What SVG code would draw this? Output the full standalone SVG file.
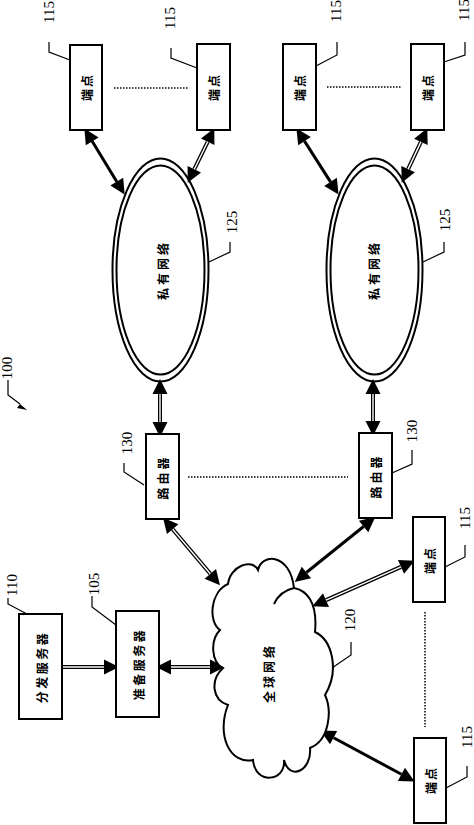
<svg xmlns="http://www.w3.org/2000/svg" width="474" height="825" viewBox="0 0 474 825">
<style>
.box{fill:#fff;stroke:#000;stroke-width:2}
.cn{font-family:"Noto Sans CJK SC","Noto Sans CJK JP",sans-serif;font-weight:700;font-size:12px;text-anchor:middle;dominant-baseline:central;fill:#000}
.num{font-family:"Liberation Serif",serif;font-size:15px;text-anchor:middle;dominant-baseline:central;fill:#000}
.lead{fill:none;stroke:#000;stroke-width:1.2}
.sh{stroke:#000;stroke-width:3}
.dsh{stroke:#000;stroke-width:4}
.gap{stroke:#fff;stroke-width:1.4}
.dot{stroke:#000;stroke-width:1.5;stroke-dasharray:1.5 1.5}
.ell{fill:none;stroke:#000;stroke-width:2}
</style>
<defs>
<marker id="ah" markerUnits="userSpaceOnUse" markerWidth="20" markerHeight="20" refX="0" refY="0" viewBox="-1 -8 16 16" orient="auto-start-reverse" overflow="visible">
<path d="M0,-6 L12,0 L0,6 Z" fill="#000"/>
</marker>
</defs>

<g id="connectors">
<line class="dsh" x1="62" y1="667" x2="104" y2="667" marker-end="url(#ah)"/>
<line class="gap" x1="62" y1="667" x2="104" y2="667"/>
<line class="dsh" x1="171" y1="667" x2="210" y2="667" marker-start="url(#ah)" marker-end="url(#ah)"/>
<line class="gap" x1="171" y1="667" x2="210" y2="667"/>
<line class="sh" x1="92.2" y1="141.3" x2="116.8" y2="181.7" marker-start="url(#ah)" marker-end="url(#ah)"/>
<line class="dsh" x1="207.7" y1="141.8" x2="194.3" y2="169.2" marker-start="url(#ah)" marker-end="url(#ah)"/>
<line class="gap" x1="207.7" y1="141.8" x2="194.3" y2="169.2"/>
<line class="sh" x1="304.5" y1="141.1" x2="330.5" y2="181.9" marker-start="url(#ah)" marker-end="url(#ah)"/>
<line class="dsh" x1="420.9" y1="141.9" x2="408.1" y2="169.1" marker-start="url(#ah)" marker-end="url(#ah)"/>
<line class="gap" x1="420.9" y1="141.9" x2="408.1" y2="169.1"/>
<line class="dsh" x1="160" y1="394" x2="160" y2="422" marker-start="url(#ah)" marker-end="url(#ah)"/>
<line class="gap" x1="160" y1="394" x2="160" y2="422"/>
<line class="dsh" x1="373" y1="394" x2="373" y2="421" marker-start="url(#ah)" marker-end="url(#ah)"/>
<line class="gap" x1="373" y1="394" x2="373" y2="421"/>
<line class="dsh" x1="172.7" y1="529.2" x2="210.3" y2="573.8" marker-start="url(#ah)" marker-end="url(#ah)"/>
<line class="gap" x1="172.7" y1="529.2" x2="210.3" y2="573.8"/>
<line class="sh" x1="363.6" y1="526.5" x2="306.4" y2="572.5" marker-start="url(#ah)" marker-end="url(#ah)"/>
<line class="dsh" x1="401" y1="566.9" x2="326" y2="600.1" marker-start="url(#ah)" marker-end="url(#ah)"/>
<line class="gap" x1="401" y1="566.9" x2="326" y2="600.1"/>
<line class="sh" x1="401.4" y1="774.3" x2="333.6" y2="737.7" marker-start="url(#ah)" marker-end="url(#ah)"/>
<line class="dot" x1="114" y1="88" x2="188" y2="88"/>
<line class="dot" x1="327" y1="87" x2="401" y2="87"/>
<line class="dot" x1="188" y1="477" x2="348" y2="477"/>
<line class="dot" x1="425" y1="612" x2="425" y2="727"/>
<polyline class="lead" points="8,380 8,395 20,404"/>
<path d="M20,404 L27,410 L17,408 Z" fill="#000"/>
</g>

<g id="label-100"><text class="num" transform="translate(7,368) rotate(-90)">100</text></g>

<g id="n110">
<rect class="box" x="19" y="614" width="43" height="105"/>
<text class="cn" transform="translate(41,667) rotate(-90)" letter-spacing="2.5">分发服务器</text>
<polyline class="lead" points="8,598 8,604 27,614"/>
<text class="num" transform="translate(12,585) rotate(-90)">110</text>
</g>

<g id="n105">
<rect class="box" x="116" y="611" width="43" height="106"/>
<text class="cn" transform="translate(138,664) rotate(-90)" letter-spacing="2.5">准备服务器</text>
<polyline class="lead" points="92,596 92,607 116,625"/>
<text class="num" transform="translate(94,584) rotate(-90)">105</text>
</g>

<g id="n115a">
<rect class="box" x="70" y="45" width="32" height="85"/>
<text class="cn" transform="translate(86,87) rotate(-90)" letter-spacing="2">端点</text>
<polyline class="lead" points="49,42 49,52 70,60"/>
<text class="num" transform="translate(49,12) rotate(-90)">115</text>
</g>
<g id="n115b">
<rect class="box" x="197" y="44" width="33" height="86"/>
<text class="cn" transform="translate(213,87) rotate(-90)" letter-spacing="2">端点</text>
<polyline class="lead" points="171,48 171,58 197,68"/>
<text class="num" transform="translate(170,18) rotate(-90)">115</text>
</g>
<g id="n115c">
<rect class="box" x="283" y="44" width="33" height="86"/>
<text class="cn" transform="translate(299,87) rotate(-90)" letter-spacing="2">端点</text>
<polyline class="lead" points="337,42 337,55 316,66"/>
<text class="num" transform="translate(336,11) rotate(-90)">115</text>
</g>
<g id="n115d">
<rect class="box" x="411" y="44" width="33" height="86"/>
<text class="cn" transform="translate(427,87) rotate(-90)" letter-spacing="2">端点</text>
<polyline class="lead" points="465,42 465,55 444,62"/>
<text class="num" transform="translate(464,10) rotate(-90)">115</text>
</g>

<g id="n125a">
<ellipse class="ell" cx="160.5" cy="270" rx="48" ry="111.5"/>
<ellipse class="ell" cx="160.5" cy="270" rx="44" ry="104.5"/>
<text class="cn" transform="translate(162,270) rotate(-90)" letter-spacing="3">私有网络</text>
<polyline class="lead" points="230,242 230,252 209,262"/>
<text class="num" transform="translate(232,222) rotate(-90)">125</text>
</g>
<g id="n125b">
<ellipse class="ell" cx="374.5" cy="270" rx="48" ry="111.5"/>
<ellipse class="ell" cx="374.5" cy="270" rx="44" ry="104.5"/>
<text class="cn" transform="translate(373,270) rotate(-90)" letter-spacing="3">私有网络</text>
<polyline class="lead" points="444,242 444,252 423,262"/>
<text class="num" transform="translate(445,220) rotate(-90)">125</text>
</g>

<g id="n130a">
<rect class="box" x="146" y="434" width="33" height="85"/>
<text class="cn" transform="translate(162,477) rotate(-90)" letter-spacing="3">路由器</text>
<polyline class="lead" points="124,463 124,472 144,485"/>
<text class="num" transform="translate(127,443) rotate(-90)">130</text>
</g>
<g id="n130b">
<rect class="box" x="359" y="433" width="33" height="85"/>
<text class="cn" transform="translate(375,476) rotate(-90)" letter-spacing="3">路由器</text>
<polyline class="lead" points="412,450 412,464 392,473"/>
<text class="num" transform="translate(412,431) rotate(-90)">130</text>
</g>

<g id="n120">
<path d="M223,668 C211,662 210,640 220,630 C208,622 210,592 228,584 C230,566 252,558 258,570 C262,553 290,553 294,588 C305,590 318,600 315,632 C332,640 340,670 325,695 C332,710 330,740 310,748 C312,770 290,782 284,760 C286,782 255,785 253,760 C230,765 216,735 228,705 C212,700 210,680 223,668 Z" fill="#fff" stroke="#000" stroke-width="2"/>
<path d="M274,604 C278,595 285,590 294,588" fill="none" stroke="#000" stroke-width="2"/>
<text class="cn" transform="translate(268,673) rotate(-90)" letter-spacing="3">全球网络</text>
<polyline class="lead" points="351,642 351,655 332,668"/>
<text class="num" transform="translate(350,620) rotate(-90)">120</text>
</g>

<g id="n115e">
<rect class="box" x="413" y="517" width="32" height="85"/>
<text class="cn" transform="translate(429,560) rotate(-90)" letter-spacing="2">端点</text>
<polyline class="lead" points="465,545 465,557 445,567"/>
<text class="num" transform="translate(465,518) rotate(-90)">115</text>
</g>
<g id="n115f">
<rect class="box" x="414" y="738" width="32" height="85"/>
<text class="cn" transform="translate(430,780) rotate(-90)" letter-spacing="2">端点</text>
<polyline class="lead" points="467,766 467,777 446,788"/>
<text class="num" transform="translate(467,737) rotate(-90)">115</text>
</g>
</svg>
